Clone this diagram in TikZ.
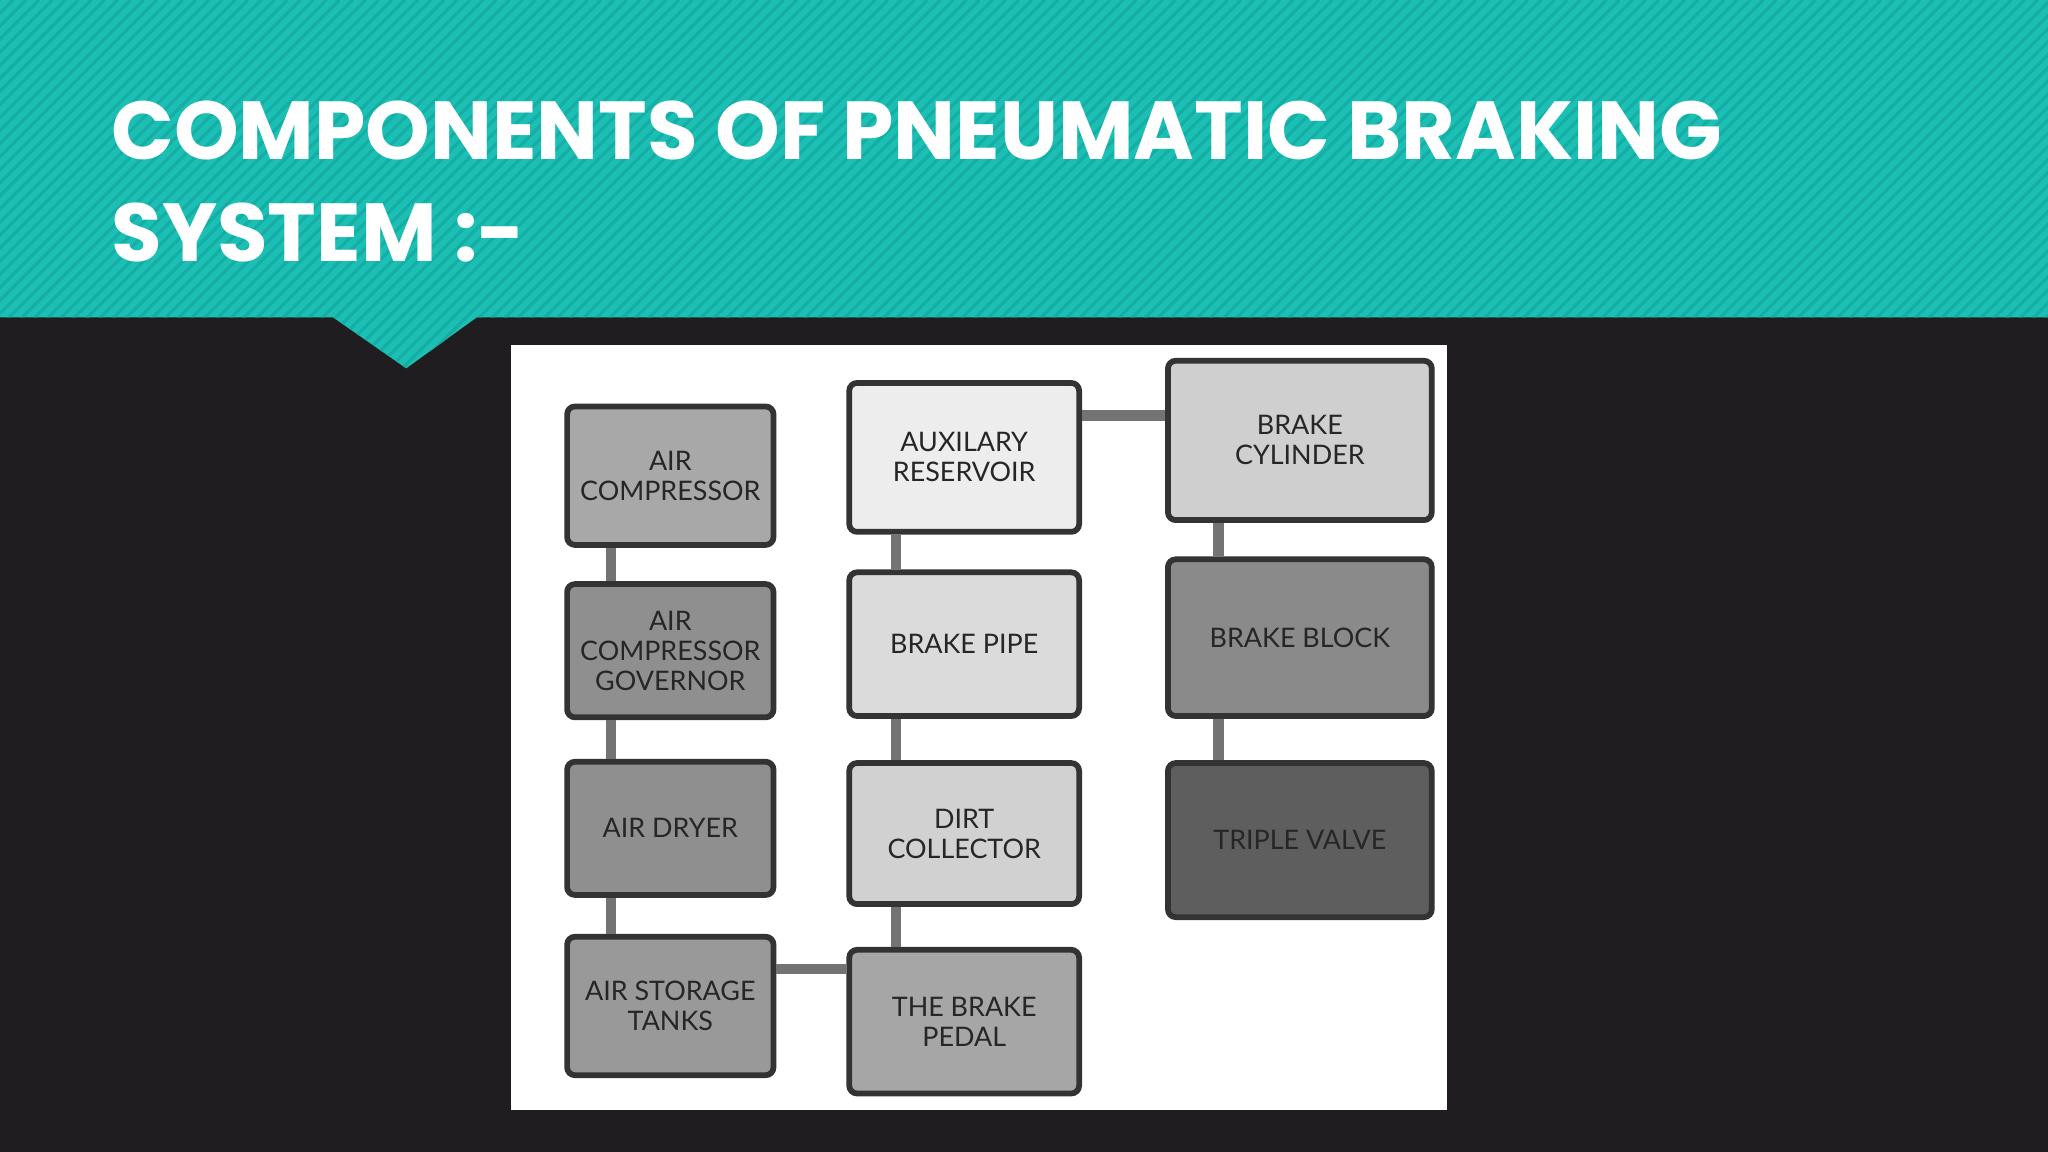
\documentclass[tikz,border=0pt]{standalone}
\usepackage{fontspec}
\setmainfont{Poppins}
\newfontfamily\boxfont{Lato}
\definecolor{teal}{HTML}{1BBFB4}
\definecolor{tealdark}{HTML}{16AEA4}
\definecolor{bgdark}{HTML}{1F1D1F}
\tikzset{
  comp/.style={draw=black!80, line width=2.2pt, rounded corners=3pt, font=\boxfont\fontsize{10.3}{11.5}\selectfont, text=black!85, align=center, anchor=north west, inner sep=0pt},
  link/.style={draw=black!55, line width=4pt},
}
\begin{document}
\begin{tikzpicture}[x=0.5pt,y=-0.5pt]
\useasboundingbox (0,0) rectangle (1568,882);
\fill[bgdark] (0,0) rectangle (1568,882);
\fill[teal] (0,0) -- (1568,0) -- (1568,243) -- (365,243) -- (311,282) -- (255,243) -- (0,243) -- cycle;
\begin{scope}
\clip (0,0) -- (1568,0) -- (1568,243) -- (365,243) -- (311,282) -- (255,243) -- (0,243) -- cycle;
\foreach \i in {-300,-290,...,1600} {\draw[tealdark, line width=1.2pt] (\i,290) -- (\i+290,0);}
\end{scope}
\node[anchor=base west, text=white, font=\fontsize{31.5}{38}\selectfont\bfseries, inner sep=0pt] (t1) at (85,122) {COMPONENTS OF PNEUMATIC BRAKING};
\node[anchor=base west, text=white, font=\fontsize{31.5}{38}\selectfont\bfseries, inner sep=0pt] (t2) at (85,200) {SYSTEM :-};
\fill[white] (391,264) rectangle (1108,850);
% boxes
\node[comp, fill=black!34, minimum width=79pt, minimum height=53pt] (ac) at (432,309) {AIR\\COMPRESSOR};
\node[comp, fill=black!44, minimum width=79pt, minimum height=51pt] (gov) at (432,445) {AIR\\COMPRESSOR\\GOVERNOR};
\node[comp, fill=black!44, minimum width=79pt, minimum height=51pt] (dry) at (432,581) {AIR DRYER};
\node[comp, fill=black!40, minimum width=79pt, minimum height=53pt] (tank) at (432,715) {AIR STORAGE\\TANKS};
\node[comp, fill=black!7, minimum width=88pt, minimum height=57pt] (aux) at (648,291) {AUXILARY\\RESERVOIR};
\node[comp, fill=black!14, minimum width=88pt, minimum height=55pt] (pipe) at (648,436) {BRAKE PIPE};
\node[comp, fill=black!18, minimum width=88pt, minimum height=54pt] (dirt) at (648,582) {DIRT\\COLLECTOR};
\node[comp, fill=black!35, minimum width=88pt, minimum height=55pt] (ped) at (648,725) {THE BRAKE\\PEDAL};
\node[comp, fill=black!19, minimum width=101pt, minimum height=61pt] (cyl) at (892,274) {BRAKE\\CYLINDER};
\node[comp, fill=black!46, minimum width=101pt, minimum height=60pt] (blk) at (892,426) {BRAKE BLOCK};
\node[comp, fill=black!63, minimum width=101pt, minimum height=59pt] (tv) at (892,582) {TRIPLE VALVE};
% links
\draw[link] (ac.south -| 468,0) -- (gov.north -| 468,0);
\draw[link] (gov.south -| 468,0) -- (dry.north -| 468,0);
\draw[link] (dry.south -| 468,0) -- (tank.north -| 468,0);
\draw[link] (tank.east |- 0,742) -- (ped.west |- 0,742);
\draw[link] (aux.south -| 686,0) -- (pipe.north -| 686,0);
\draw[link] (pipe.south -| 686,0) -- (dirt.north -| 686,0);
\draw[link] (dirt.south -| 686,0) -- (ped.north -| 686,0);
\draw[link] (aux.east |- 0,318) -- (cyl.west |- 0,318);
\draw[link] (cyl.south -| 933,0) -- (blk.north -| 933,0);
\draw[link] (blk.south -| 933,0) -- (tv.north -| 933,0);
\end{tikzpicture}
\end{document}
